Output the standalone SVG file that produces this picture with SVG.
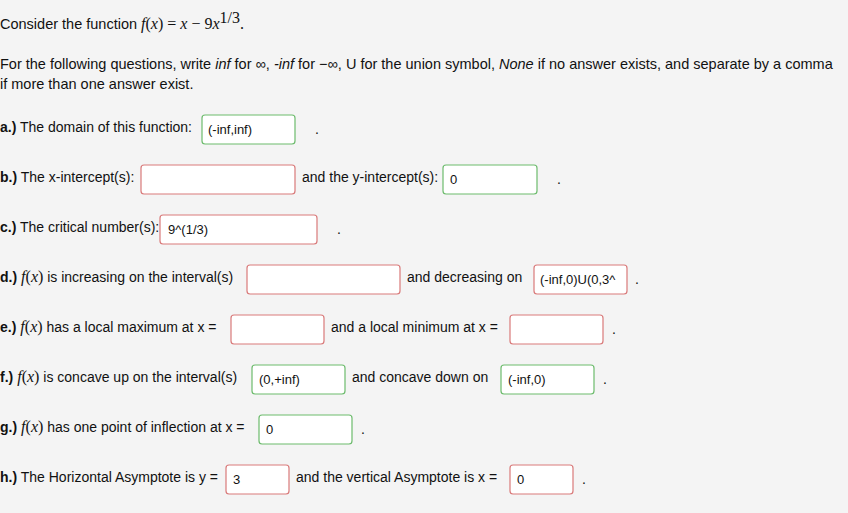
<svg xmlns="http://www.w3.org/2000/svg" width="848" height="513" viewBox="0 0 848 513">
<style>
text{font-family:"Liberation Sans",Arial,sans-serif;font-size:14px;fill:#111}
.t{font-size:14.5px}
.m{font-family:"Liberation Serif","Times New Roman",serif;font-size:16px}
.i{font-style:italic}
.b{font-weight:bold}
.g{fill:#fff;stroke:#6dbb6d;stroke-width:1.2}
.r{fill:#fff;stroke:#d97a7a;stroke-width:1.2}
.v{font-size:13px}
</style>
<rect width="848" height="513" fill="#f4f4f4"/>
<text class="t" x="0" y="29">Consider the function <tspan class="m i">f</tspan><tspan class="m">(</tspan><tspan class="m i">x</tspan><tspan class="m">) = </tspan><tspan class="m i">x</tspan><tspan class="m"> − 9</tspan><tspan class="m i">x</tspan><tspan class="m" font-size="9" dy="-6">1/3</tspan><tspan class="m" dy="6">.</tspan></text>
<text class="t" x="0" y="69">For the following questions, write <tspan class="i">inf</tspan> for ∞, <tspan class="i">-inf</tspan> for −∞, U for the union symbol, <tspan class="i">None</tspan> if no answer exists, and separate by a comma</text>
<text class="t" x="0" y="89">if more than one answer exist.</text>

<g id="a"><text x="0" y="132"><tspan class="b">a.)</tspan> The domain of this function:</text>
<rect class="g" x="202" y="115" width="93" height="29" rx="3"/><text class="v" x="208" y="134">(-inf,inf)</text><text x="315" y="134">.</text></g>

<g id="b"><text x="0" y="182"><tspan class="b">b.)</tspan> The x-intercept(s):</text>
<rect class="r" x="141" y="165" width="154" height="29" rx="3"/>
<text x="302" y="182">and the y-intercept(s):</text>
<rect class="g" x="443" y="165" width="94" height="29" rx="3"/><text class="v" x="450" y="184">0</text><text x="557" y="184">.</text></g>

<g id="c"><text x="0" y="232"><tspan class="b">c.)</tspan> The critical number(s):</text>
<rect class="r" x="160" y="215" width="157" height="29" rx="3"/><text class="v" x="168" y="234">9^(1/3)</text><text x="337" y="234">.</text></g>

<g id="d"><text x="0" y="282"><tspan class="b">d.)</tspan><tspan class="m i"> f</tspan><tspan class="m">(</tspan><tspan class="m i">x</tspan><tspan class="m">)</tspan> is increasing on the interval(s)</text>
<rect class="r" x="247" y="265" width="153" height="29" rx="3"/>
<text x="407" y="282">and decreasing on</text>
<rect class="r" x="534" y="265" width="93" height="29" rx="3"/><text class="v" x="540" y="284">(-inf,0)U(0,3^</text><text x="635" y="284">.</text></g>

<g id="e"><text x="0" y="332"><tspan class="b">e.)</tspan><tspan class="m i"> f</tspan><tspan class="m">(</tspan><tspan class="m i">x</tspan><tspan class="m">)</tspan> has a local maximum at x =</text>
<rect class="r" x="231" y="315" width="93" height="29" rx="3"/>
<text x="331" y="332">and a local minimum at x =</text>
<rect class="r" x="510" y="315" width="93" height="29" rx="3"/><text x="612" y="334">.</text></g>

<g id="f"><text x="0" y="382"><tspan class="b">f.)</tspan><tspan class="m i"> f</tspan><tspan class="m">(</tspan><tspan class="m i">x</tspan><tspan class="m">)</tspan> is concave up on the interval(s)</text>
<rect class="g" x="252" y="365" width="93" height="29" rx="3"/><text class="v" x="259" y="384">(0,+inf)</text>
<text x="352" y="382">and concave down on</text>
<rect class="g" x="501" y="365" width="93" height="29" rx="3"/><text class="v" x="508" y="384">(-inf,0)</text><text x="603" y="384">.</text></g>

<g id="g"><text x="0" y="432"><tspan class="b">g.)</tspan><tspan class="m i"> f</tspan><tspan class="m">(</tspan><tspan class="m i">x</tspan><tspan class="m">)</tspan> has one point of inflection at x =</text>
<rect class="g" x="259" y="415" width="93" height="29" rx="3"/><text class="v" x="266" y="434">0</text><text x="361" y="434">.</text></g>

<g id="h"><text x="0" y="482"><tspan class="b">h.)</tspan> The Horizontal Asymptote is y =</text>
<rect class="r" x="226" y="465" width="63" height="29" rx="3"/><text class="v" x="233" y="484">3</text>
<text x="296" y="482">and the vertical Asymptote is x =</text>
<rect class="r" x="510" y="465" width="63" height="29" rx="3"/><text class="v" x="517" y="484">0</text><text x="582" y="484">.</text></g>
</svg>
